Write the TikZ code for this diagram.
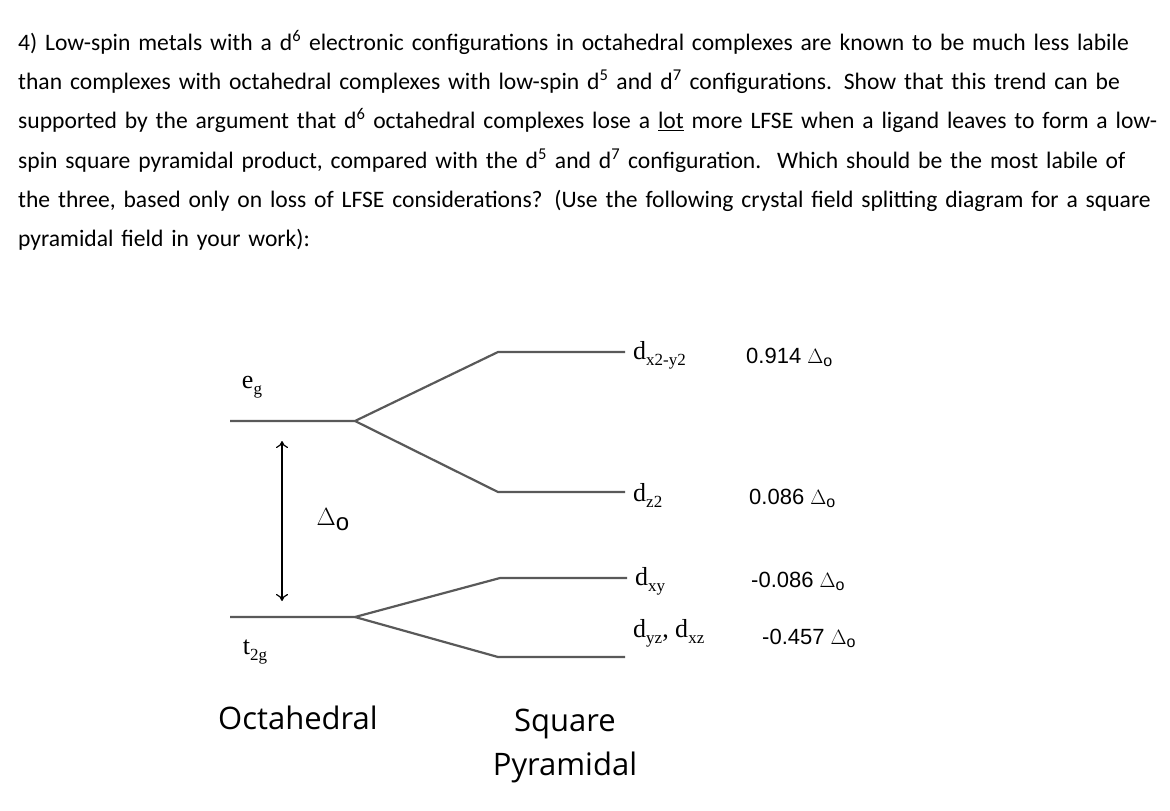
\documentclass[tikz,border=0pt]{standalone}
\usetikzlibrary{arrows.meta}
\usepackage{fontspec}
\setmainfont{Carlito}
\newfontfamily\tms{Liberation Serif}
\newfontfamily\arl{Liberation Sans}
\newfontfamily\opn{Open Sans}
\begin{document}
\begin{tikzpicture}[x=1pt,y=-1pt,
  lvl/.style={draw=black!65,line width=2.2pt},
  orb/.style={anchor=west,inner sep=0,font=\tms\fontsize{26}{28}\selectfont},
  val/.style={anchor=west,inner sep=0,font=\arl\fontsize{22}{26}\selectfont},
  captext/.style={inner sep=0,font=\opn\fontsize{31}{44}\selectfont,align=center}]
\useasboundingbox (0,0) rectangle (1170,811);
\node[anchor=north west,inner sep=0,text width=1140pt,align=left,
  font=\fontsize{23.6}{39.3}\selectfont] (q) at (18,30) {4) Low-spin metals with a d\textsuperscript{6} electronic configurations in octahedral complexes are known to be much less labile than complexes with octahedral complexes with low-spin d\textsuperscript{5} and d\textsuperscript{7} configurations. Show that this trend can be supported by the argument that d\textsuperscript{6} octahedral complexes lose a \underline{lot} more LFSE when a ligand leaves to form a low-spin square pyramidal product, compared with the d\textsuperscript{5} and d\textsuperscript{7} configuration.\ \ Which should be the most labile of the three, based only on loss of LFSE considerations? (Use the following crystal field splitting diagram for a square pyramidal field in your work):};
% levels
\coordinate (eL) at (230,421); \coordinate (eR) at (355,421);
\coordinate (tL) at (230,617); \coordinate (tR) at (355,617);
\coordinate (a1) at (498,352); \coordinate (a2) at (625,352);
\coordinate (b1) at (498,492); \coordinate (b2) at (625,492);
\coordinate (c1) at (500,578); \coordinate (c2) at (627,578);
\coordinate (d1) at (498,657); \coordinate (d2) at (625,657);
\draw[lvl] (eL) -- (eR) -- (a1) -- (a2);
\draw[lvl] (eR) -- (b1) -- (b2);
\draw[lvl] (tL) -- (tR) -- (c1) -- (c2);
\draw[lvl] (tR) -- (d1) -- (d2);
\coordinate (ar1) at (282,441); \coordinate (ar2) at (282,601);
\draw[line width=1.2pt,{To[length=7pt,width=12pt]}-{To[length=7pt,width=12pt]}] (ar1) -- (ar2);
\node[inner sep=0,font=\tms\fontsize{34}{36}\selectfont] (D) at (333,520) {$\Delta$\raisebox{-5pt}{\arl\fontsize{24}{26}\selectfont o}};
\node[inner sep=0,font=\tms\fontsize{26}{28}\selectfont] (eg) at (252,387) {e\raisebox{-6pt}{\fontsize{17}{18}\selectfont g}};
\node[inner sep=0,font=\tms\fontsize{26}{28}\selectfont] (tg) at (255,652) {t\raisebox{-6pt}{\fontsize{17}{18}\selectfont 2g}};
\node[orb] (o1) at (633,355) {d\raisebox{-6pt}{\fontsize{17}{18}\selectfont x2-y2}};
\node[orb] (o2) at (633,495) {d\raisebox{-6pt}{\fontsize{17}{18}\selectfont z2}};
\node[orb] (o3) at (635,581) {d\raisebox{-6pt}{\fontsize{17}{18}\selectfont xy}};
\node[orb] (o4) at (633,633) {d\raisebox{-6pt}{\fontsize{17}{18}\selectfont yz}, d\raisebox{-6pt}{\fontsize{17}{18}\selectfont xz}};
\def\Dlt{$\Delta$\raisebox{-3pt}{\fontsize{16}{18}\selectfont o}}
\node[val] (v1) at (746,357) {0.914 \Dlt};
\node[val] (v2) at (749,498) {0.086 \Dlt};
\node[val] (v3) at (751,581) {-0.086 \Dlt};
\node[val] (v4) at (762,638) {-0.457 \Dlt};
\node[captext] (oc) at (298,718) {Octahedral};
\node[captext] (sp) at (565,746) {Square\\Pyramidal};
\end{tikzpicture}
\end{document}
